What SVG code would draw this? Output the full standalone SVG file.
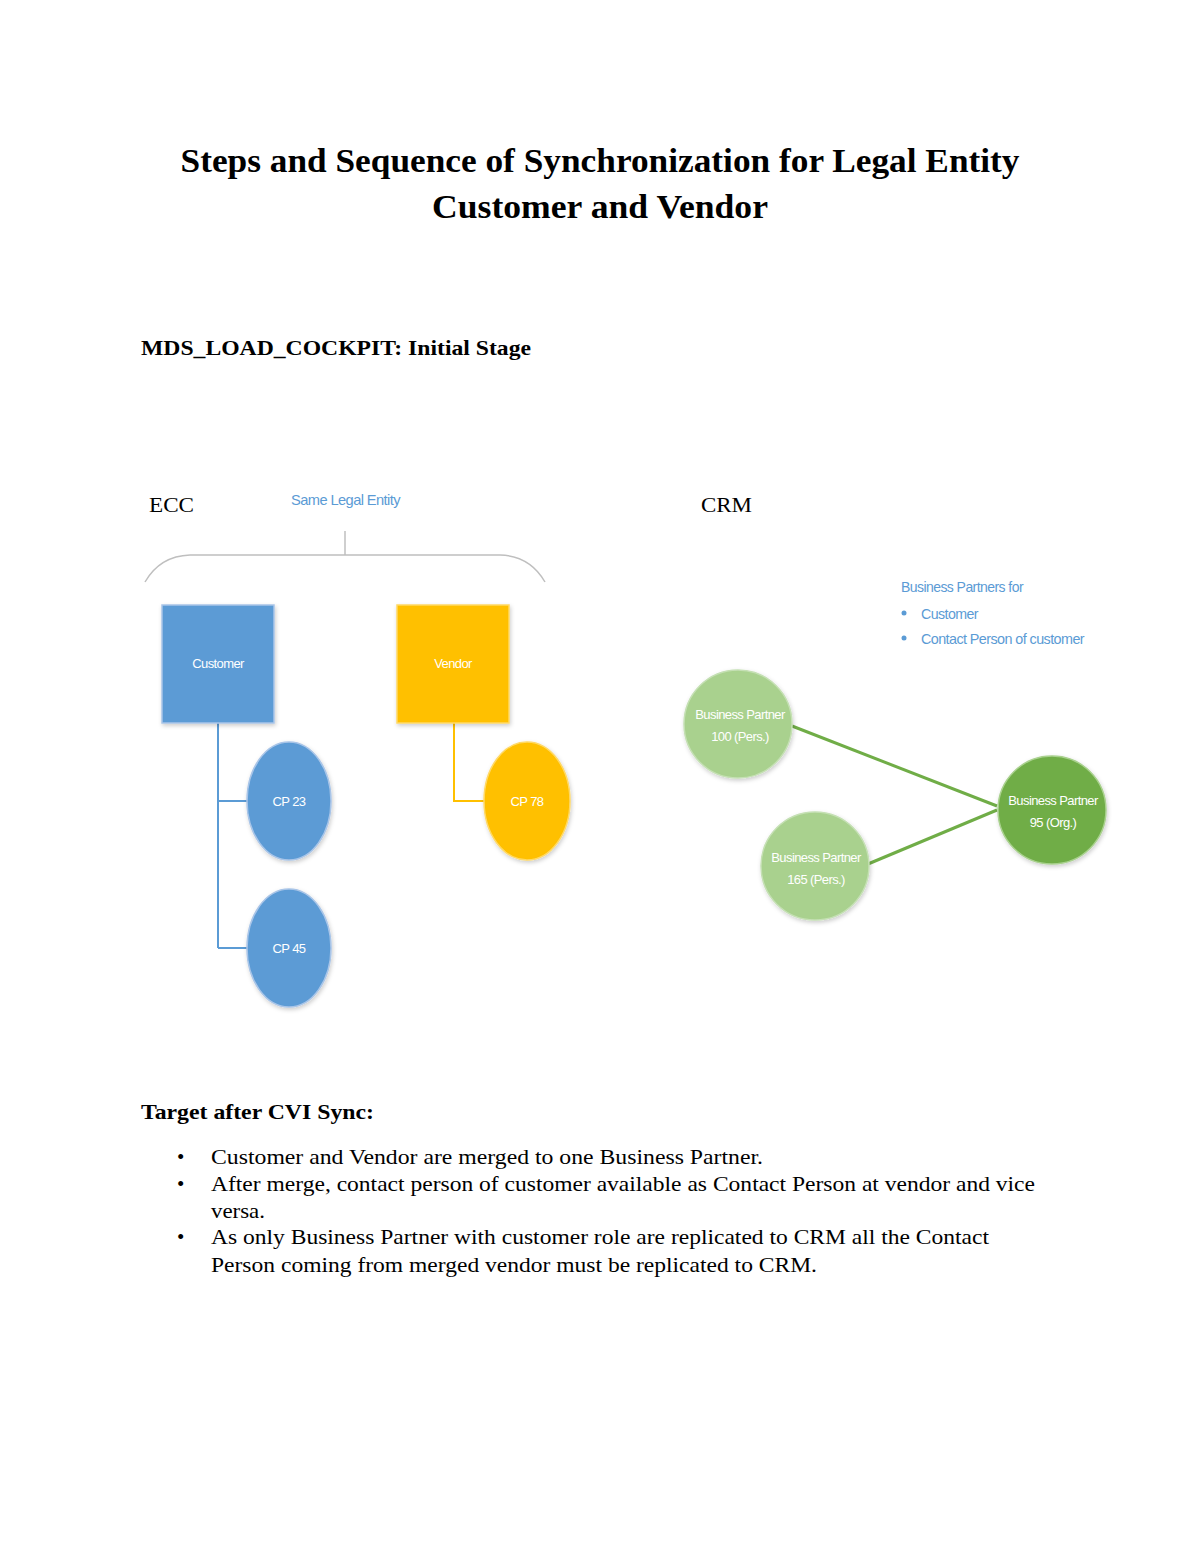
<svg xmlns="http://www.w3.org/2000/svg" width="1200" height="1553" viewBox="0 0 1200 1553">
<style>
.serif{font-family:"Liberation Serif","Times New Roman",serif;fill:#000}
.title{font-size:34px;font-weight:bold;text-anchor:middle}
.head{font-size:21px;font-weight:bold}
.body{font-size:21px}
.lbl{font-family:"Liberation Sans",Arial,sans-serif;fill:#fff;font-size:13px;text-anchor:middle;letter-spacing:-0.6px}
.blue{font-family:"Liberation Sans",Arial,sans-serif;fill:#5b9bd5;font-size:15px;letter-spacing:-0.6px}
.cust{fill:#5b9bd5;stroke:#a9c5e8;stroke-width:1.5}
.vend{fill:#ffc000;stroke:#ffd966;stroke-width:1.5}
.bpl{fill:#a9d18e;stroke:#c5e0b4;stroke-width:1.5}
.bpd{fill:#70ad47;stroke:#a9d18e;stroke-width:1.5}
</style>
<defs>
<filter id="sh" x="-20%" y="-20%" width="140%" height="140%">
<feDropShadow dx="1" dy="2" stdDeviation="2" flood-color="#000" flood-opacity="0.2"/>
</filter>
</defs>
<rect width="1200" height="1553" fill="#fff"/>
<text class="serif title" x="600" y="172" textLength="839" lengthAdjust="spacingAndGlyphs">Steps and Sequence of Synchronization for Legal Entity</text>
<text class="serif title" x="600" y="218" textLength="336" lengthAdjust="spacingAndGlyphs">Customer and Vendor</text>
<text class="serif head" x="141" y="355" textLength="390" lengthAdjust="spacingAndGlyphs">MDS_LOAD_COCKPIT: Initial Stage</text>
<text class="serif body" x="149" y="512" font-size="22" textLength="45" lengthAdjust="spacingAndGlyphs">ECC</text>
<text class="serif body" x="701" y="512" font-size="22" textLength="51" lengthAdjust="spacingAndGlyphs">CRM</text>
<text class="blue" x="291" y="505" font-size="16" textLength="109" lengthAdjust="spacingAndGlyphs">Same Legal Entity</text>
<g id="brace" fill="none" stroke="#bfbfbf" stroke-width="1.5">
<line x1="345" y1="531" x2="345" y2="555"/>
<path d="M145,582 Q160,556 190,555 L500,555 Q530,556 545,582"/>
</g>
<g id="connectors" fill="none">
<path d="M218,723 V948 M218,801 H247 M218,948 H247" stroke="#5b9bd5" stroke-width="2"/>
<path d="M454,723 V801 H484" stroke="#ffc000" stroke-width="2"/>
<line x1="792" y1="726" x2="997" y2="806" stroke="#70ad47" stroke-width="3"/>
<line x1="868" y1="864" x2="997" y2="810" stroke="#70ad47" stroke-width="3"/>
</g>
<g id="customer"><rect class="cust" x="162" y="605" width="112" height="118" filter="url(#sh)"/><text class="lbl" x="218" y="668">Customer</text></g>
<g id="vendor"><rect class="vend" x="397" y="605" width="112" height="118" filter="url(#sh)"/><text class="lbl" x="453" y="668">Vendor</text></g>
<g id="cp23"><ellipse class="cust" cx="289" cy="801" rx="42" ry="59" filter="url(#sh)"/><text class="lbl" x="289" y="806">CP 23</text></g>
<g id="cp45"><ellipse class="cust" cx="289" cy="948" rx="42" ry="59" filter="url(#sh)"/><text class="lbl" x="289" y="953">CP 45</text></g>
<g id="cp78"><ellipse class="vend" cx="527" cy="801" rx="43" ry="59" filter="url(#sh)"/><text class="lbl" x="527" y="806">CP 78</text></g>
<g id="legend">
<text class="blue" x="901" y="592" textLength="122" lengthAdjust="spacingAndGlyphs">Business Partners for</text>
<circle cx="904" cy="613" r="2.5" fill="#5b9bd5"/>
<text class="blue" x="921" y="619" textLength="57" lengthAdjust="spacingAndGlyphs">Customer</text>
<circle cx="904" cy="638" r="2.5" fill="#5b9bd5"/>
<text class="blue" x="921" y="644" textLength="163" lengthAdjust="spacingAndGlyphs">Contact Person of customer</text>
</g>
<g id="bp100"><circle class="bpl" cx="738" cy="724" r="54" filter="url(#sh)"/><text class="lbl" x="740" y="719">Business Partner</text><text class="lbl" x="740" y="741">100 (Pers.)</text></g>
<g id="bp165"><circle class="bpl" cx="815" cy="866" r="54" filter="url(#sh)"/><text class="lbl" x="816" y="862">Business Partner</text><text class="lbl" x="816" y="884">165 (Pers.)</text></g>
<g id="bp95"><circle class="bpd" cx="1052" cy="810" r="54" filter="url(#sh)"/><text class="lbl" x="1053" y="805">Business Partner</text><text class="lbl" x="1053" y="827">95 (Org.)</text></g>
<text class="serif head" x="141" y="1119" textLength="233" lengthAdjust="spacingAndGlyphs">Target after CVI Sync:</text>
<g class="serif body">
<text x="177" y="1164">•</text><text x="211" y="1164" textLength="552" lengthAdjust="spacingAndGlyphs">Customer and Vendor are merged to one Business Partner.</text>
<text x="177" y="1191">•</text><text x="211" y="1191" textLength="824" lengthAdjust="spacingAndGlyphs">After merge, contact person of customer available as Contact Person at vendor and vice</text>
<text x="211" y="1218" textLength="54" lengthAdjust="spacingAndGlyphs">versa.</text>
<text x="177" y="1244">•</text><text x="211" y="1244" textLength="778" lengthAdjust="spacingAndGlyphs">As only Business Partner with customer role are replicated to CRM all the Contact</text>
<text x="211" y="1272" textLength="606" lengthAdjust="spacingAndGlyphs">Person coming from merged vendor must be replicated to CRM.</text>
</g>
</svg>
